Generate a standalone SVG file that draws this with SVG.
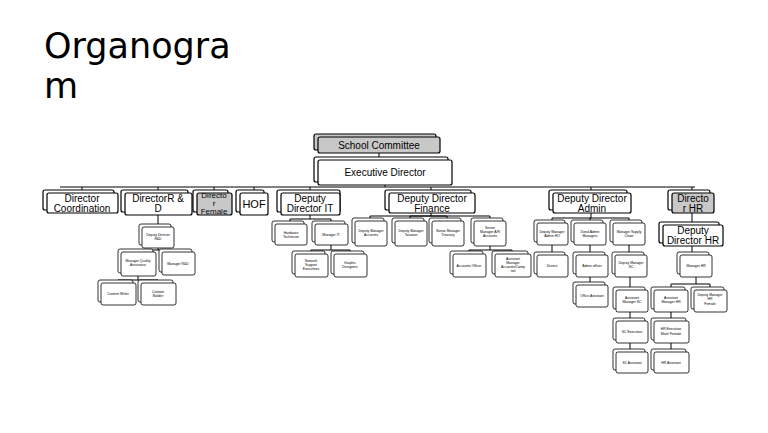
<svg xmlns="http://www.w3.org/2000/svg" width="768" height="433" viewBox="0 0 768 433">
<style>
.b{fill:#fff;stroke:#000;stroke-width:1.2}
.f{fill:#fff;stroke:#000;stroke-width:1.2}
.g{fill:#c8c8c8}
.s .b,.s .f{stroke-width:0.8}
text{font-family:"Liberation Sans",Arial,sans-serif;text-anchor:middle;fill:#000}
.L{font-size:10px}
.S{font-size:3.4px}
.c{fill:none;stroke:#000;stroke-width:1}
</style>
<rect width="768" height="433" fill="#fff"/>
<text x="44" y="58" style="font-size:35px;text-anchor:start;font-family:'DejaVu Sans',sans-serif">Organogra</text>
<text x="44" y="98" style="font-size:35px;text-anchor:start;font-family:'DejaVu Sans',sans-serif">m</text>
<g id="connectors" class="c">
<path d="M379 153V160M385 185V187M60 187H695M82 187V193M158 187V193M214 187V193M254 187V193M310 187V193M431 187V194M591 187V193M692 187V193M692 213V225"/>
<path d="M158 215V227M158 248V250H138V252M158 250H178V252M138 276V280H118V283M138 280H158V283"/>
<path d="M310 215V219H290V224M310 219H331V224M331 245V250H311V254M331 250H350V254"/>
<path d="M431 212V216H370V221M431 216H410V221M431 216H447V221M431 216H490V221M490 246V250H469V254M490 250H512V254"/>
<path d="M591 213V218H552V223M591 218H590V223M591 218H629V223M552 245V255M590 245V255M590 277V285M629 245V255M630 277V290M630 312V321M630 343V352"/>
<path d="M692 246V255M696 277V284H671V290M696 284H710V290M671 312V321M671 343V352"/>
</g>
<g id="n-school"><rect class="b g" x="314" y="134" width="122" height="16" rx="2"/><rect class="f g" x="318" y="137" width="122" height="16" rx="2"/><text class="L" x="379" y="149">School Committee</text></g>
<g id="n-exec"><rect class="b" x="314" y="157" width="134" height="25" rx="2"/><rect class="f" x="318" y="160" width="134" height="25" rx="2"/><text class="L" x="385" y="176">Executive Director</text></g>
<g id="n-coord"><rect class="b" x="43" y="190" width="71" height="20" rx="2"/><rect class="f" x="47" y="193" width="71" height="20" rx="2"/><text class="L" x="82" y="202">Director</text><text class="L" x="82" y="212">Coordination</text></g>
<g id="n-rd"><rect class="b" x="121" y="190" width="67" height="22" rx="2"/><rect class="f" x="125" y="193" width="67" height="22" rx="2"/><text class="L" x="158" y="202">DirectorR &amp;</text><text class="L" x="158" y="212">D</text></g>
<g id="n-female"><rect class="b" x="193" y="190" width="35" height="22" rx="2"/><rect class="f g" x="197" y="193" width="35" height="22" rx="2"/><text x="214" y="198" style="font-size:8px">Directo</text><text x="214" y="206" style="font-size:8px">r</text><text x="214" y="214" style="font-size:8px">Female</text></g>
<g id="n-hof"><rect class="b" x="236" y="190" width="28" height="22" rx="2"/><rect class="f" x="240" y="193" width="28" height="22" rx="2"/><text x="254" y="208" style="font-size:11px">HOF</text></g>
<g id="n-it"><rect class="b" x="277" y="190" width="63" height="22" rx="2"/><rect class="f" x="281" y="193" width="59" height="22" rx="2"/><text class="L" x="310" y="202">Deputy</text><text class="L" x="310" y="212">Director IT</text></g>
<g id="n-fin"><rect class="b" x="385" y="190" width="86" height="20" rx="2"/><rect class="f" x="389" y="193" width="86" height="20" rx="2"/><text class="L" x="432" y="202">Deputy Director</text><text class="L" x="432" y="212">Finance</text></g>
<g id="n-admin"><rect class="b" x="549" y="190" width="78" height="20" rx="2"/><rect class="f" x="553" y="193" width="78" height="20" rx="2"/><text class="L" x="592" y="202">Deputy Director</text><text class="L" x="592" y="212">Admin</text></g>
<g id="n-dirhr"><rect class="b" x="668" y="190" width="42" height="20" rx="2"/><rect class="f g" x="672" y="193" width="42" height="20" rx="2"/><text class="L" x="693" y="202">Directo</text><text class="L" x="693" y="212">r HR</text></g>
<g id="n-ddhr"><rect class="b" x="659" y="222" width="60" height="21" rx="2"/><rect class="f" x="663" y="225" width="60" height="21" rx="2"/><text class="L" x="693" y="234">Deputy</text><text class="L" x="693" y="244">Director HR</text></g>
<g class="s">
<g id="n-ddrd"><rect class="b" x="139" y="224" width="32" height="21" rx="2"/><rect class="f" x="142" y="227" width="32" height="21" rx="2"/><text class="S" x="158" y="236">Deputy Director</text><text class="S" x="158" y="240">R&amp;D</text></g>
<g id="n-mqa"><rect class="b" x="118" y="249" width="35" height="24" rx="2"/><rect class="f" x="121" y="252" width="35" height="24" rx="2"/><text class="S" x="138" y="262">Manager Quality</text><text class="S" x="138" y="266">Assurance</text></g>
<g id="n-mrd"><rect class="b" x="159" y="249" width="33" height="23" rx="2"/><rect class="f" x="162" y="252" width="33" height="23" rx="2"/><text class="S" x="178" y="265">Manager R&amp;D</text></g>
<g id="n-cw"><rect class="b" x="98" y="280" width="35" height="22" rx="2"/><rect class="f" x="101" y="283" width="35" height="22" rx="2"/><text class="S" x="118" y="295">Content Writer</text></g>
<g id="n-cb"><rect class="b" x="138" y="280" width="35" height="22" rx="2"/><rect class="f" x="141" y="283" width="35" height="22" rx="2"/><text class="S" x="158" y="293">Content</text><text class="S" x="158" y="297">Builder</text></g>
<g id="n-hw"><rect class="b" x="272" y="221" width="32" height="21" rx="2"/><rect class="f" x="275" y="224" width="32" height="21" rx="2"/><text class="S" x="291" y="234">Hardware</text><text class="S" x="291" y="238">Technician</text></g>
<g id="n-mit"><rect class="b" x="312" y="221" width="33" height="21" rx="2"/><rect class="f" x="315" y="224" width="33" height="21" rx="2"/><text class="S" x="331" y="236">Manager IT</text></g>
<g id="n-nse"><rect class="b" x="292" y="251" width="33" height="23" rx="2"/><rect class="f" x="295" y="254" width="33" height="23" rx="2"/><text class="S" x="311" y="262">Network</text><text class="S" x="311" y="266">Support</text><text class="S" x="311" y="270">Executives</text></g>
<g id="n-gd"><rect class="b" x="331" y="251" width="33" height="23" rx="2"/><rect class="f" x="334" y="254" width="33" height="23" rx="2"/><text class="S" x="350" y="264">Graphic</text><text class="S" x="350" y="268">Designers</text></g>
<g id="n-dma"><rect class="b" x="352" y="218" width="32" height="25" rx="2"/><rect class="f" x="355" y="221" width="32" height="25" rx="2"/><text class="S" x="371" y="232">Deputy Manager</text><text class="S" x="371" y="236">Accounts</text></g>
<g id="n-dmt"><rect class="b" x="392" y="218" width="32" height="25" rx="2"/><rect class="f" x="395" y="221" width="32" height="25" rx="2"/><text class="S" x="411" y="232">Deputy Manager</text><text class="S" x="411" y="236">Taxation</text></g>
<g id="n-smt"><rect class="b" x="429" y="218" width="32" height="25" rx="2"/><rect class="f" x="432" y="221" width="32" height="25" rx="2"/><text class="S" x="448" y="232">Senior Manager</text><text class="S" x="448" y="236">Treasury</text></g>
<g id="n-sma"><rect class="b" x="471" y="218" width="32" height="25" rx="2"/><rect class="f" x="474" y="221" width="32" height="25" rx="2"/><text class="S" x="490" y="229">Senior</text><text class="S" x="490" y="233">Manager A/R</text><text class="S" x="490" y="237">Accounts</text></g>
<g id="n-ao"><rect class="b" x="450" y="251" width="33" height="23" rx="2"/><rect class="f" x="453" y="254" width="33" height="23" rx="2"/><text class="S" x="469" y="267">Accounts Officer</text></g>
<g id="n-amac"><rect class="b" x="492" y="251" width="36" height="23" rx="2"/><rect class="f" x="495" y="254" width="36" height="23" rx="2"/><text class="S" x="513" y="260">Assistant</text><text class="S" x="513" y="264">Manager</text><text class="S" x="513" y="268">Accounts/Comp</text><text class="S" x="513" y="272">not</text></g>
<g id="n-dmah"><rect class="b" x="534" y="220" width="31" height="22" rx="2"/><rect class="f" x="537" y="223" width="31" height="22" rx="2"/><text class="S" x="552" y="233">Deputy Manager</text><text class="S" x="552" y="237">Admin HO</text></g>
<g id="n-zam"><rect class="b" x="571" y="220" width="32" height="22" rx="2"/><rect class="f" x="574" y="223" width="32" height="22" rx="2"/><text class="S" x="590" y="233">Zonal Admin</text><text class="S" x="590" y="237">Managers</text></g>
<g id="n-msc"><rect class="b" x="610" y="220" width="32" height="22" rx="2"/><rect class="f" x="613" y="223" width="32" height="22" rx="2"/><text class="S" x="629" y="233">Manager Supply</text><text class="S" x="629" y="237">Chain</text></g>
<g id="n-drv"><rect class="b" x="534" y="252" width="31" height="22" rx="2"/><rect class="f" x="537" y="255" width="31" height="22" rx="2"/><text class="S" x="552" y="267">Drivers</text></g>
<g id="n-adm"><rect class="b" x="573" y="252" width="32" height="22" rx="2"/><rect class="f" x="576" y="255" width="32" height="22" rx="2"/><text class="S" x="592" y="267">Admin officer</text></g>
<g id="n-dmsc"><rect class="b" x="612" y="252" width="32" height="22" rx="2"/><rect class="f" x="615" y="255" width="32" height="22" rx="2"/><text class="S" x="631" y="264">Deputy Manager</text><text class="S" x="631" y="268">SC</text></g>
<g id="n-oa"><rect class="b" x="573" y="282" width="32" height="22" rx="2"/><rect class="f" x="576" y="285" width="32" height="22" rx="2"/><text class="S" x="592" y="297">Office Assistant</text></g>
<g id="n-amsc"><rect class="b" x="613" y="287" width="32" height="22" rx="2"/><rect class="f" x="616" y="290" width="32" height="22" rx="2"/><text class="S" x="632" y="299">Assistant</text><text class="S" x="632" y="303">Manager SC</text></g>
<g id="n-sce"><rect class="b" x="613" y="318" width="32" height="22" rx="2"/><rect class="f" x="616" y="321" width="32" height="22" rx="2"/><text class="S" x="632" y="333">SC Executive</text></g>
<g id="n-sca"><rect class="b" x="613" y="349" width="32" height="21" rx="2"/><rect class="f" x="616" y="352" width="32" height="21" rx="2"/><text class="S" x="632" y="364">SC Assistant</text></g>
<g id="n-mhr"><rect class="b" x="677" y="252" width="32" height="22" rx="2"/><rect class="f" x="680" y="255" width="32" height="22" rx="2"/><text class="S" x="696" y="267">Manager HR</text></g>
<g id="n-amhr"><rect class="b" x="651" y="287" width="34" height="22" rx="2"/><rect class="f" x="654" y="290" width="34" height="22" rx="2"/><text class="S" x="671" y="299">Assistant</text><text class="S" x="671" y="303">Manager HR</text></g>
<g id="n-dmhr"><rect class="b" x="691" y="287" width="33" height="22" rx="2"/><rect class="f" x="694" y="290" width="33" height="22" rx="2"/><text class="S" x="710" y="296">Deputy Manager</text><text class="S" x="710" y="300">HR</text><text class="S" x="710" y="305">Female</text></g>
<g id="n-hre"><rect class="b" x="651" y="318" width="35" height="22" rx="2"/><rect class="f" x="654" y="321" width="35" height="22" rx="2"/><text class="S" x="671" y="330">HR Executive</text><text class="S" x="671" y="335">Male/ Female</text></g>
<g id="n-hra"><rect class="b" x="651" y="349" width="35" height="21" rx="2"/><rect class="f" x="654" y="352" width="35" height="21" rx="2"/><text class="S" x="671" y="364">HR Assistant</text></g>
</g>
</svg>
